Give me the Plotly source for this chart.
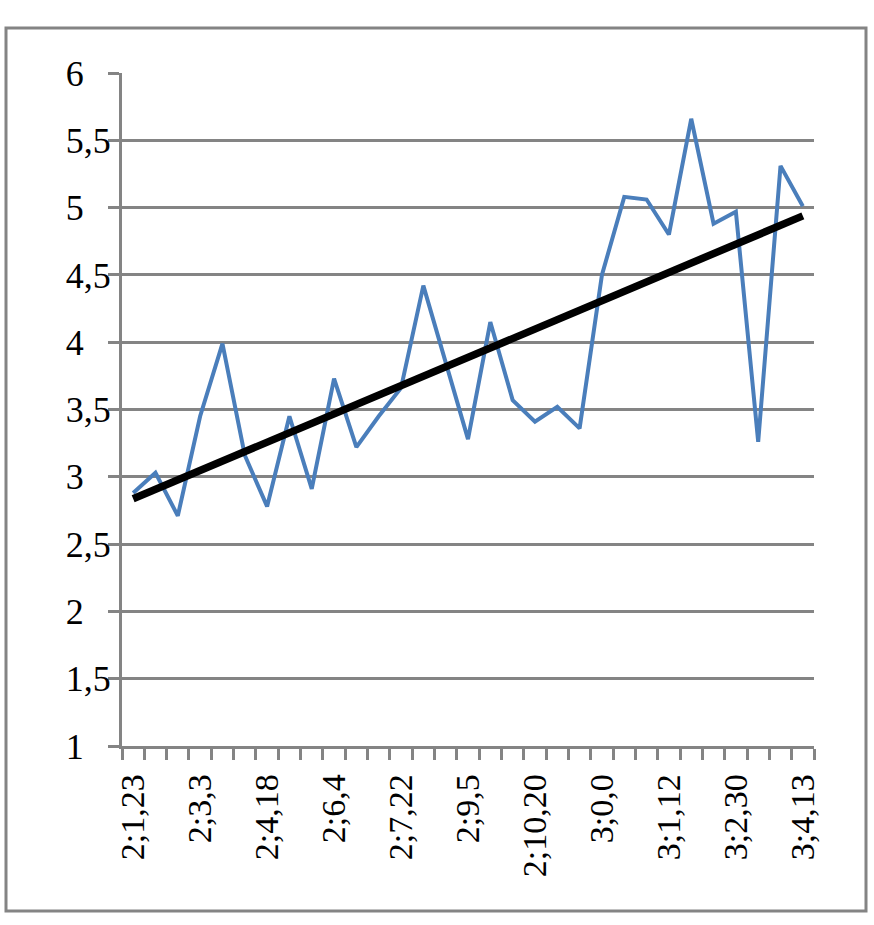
import numpy as np
import plotly.graph_objects as go

# --- data ---
tick_labels = ["2;1,23", "2;3,3", "2;4,18", "2;6,4", "2;7,22", "2;9,5",
               "2;10,20", "3;0,0", "3;1,12", "3;2,30", "3;4,13"]
values = [2.88, 3.03, 2.71, 3.45, 3.99, 3.16, 2.78, 3.45, 2.91, 3.73,
          3.22, 3.45, 3.66, 4.42, 3.85, 3.28, 4.15, 3.57, 3.41, 3.52,
          3.36, 4.50, 5.08, 5.06, 4.80, 5.66, 4.88, 4.97, 3.26, 5.31, 5.01]
y_ticks = [1, 1.5, 2, 2.5, 3, 3.5, 4, 4.5, 5, 5.5, 6]
y_tick_text = ["1", "1,5", "2", "2,5", "3", "3,5", "4", "4,5", "5", "5,5", "6"]
label_step = 3

x = np.arange(len(values))
slope, intercept = np.polyfit(x, values, 1)
trend = slope * x + intercept

W, H = 874, 925
L, R, T, B = 122, 814, 73, 746

# left-align the y labels as in the reference (pad integers to width of "d,d")
pad = "\u2008\u2007"
y_text_aligned = [t if "," in t else t + pad for t in y_tick_text]

fig = go.Figure()
fig.add_trace(go.Scatter(x=x, y=values, mode="lines",
                         line=dict(color="#4A7EBB", width=4), showlegend=False))
fig.add_trace(go.Scatter(x=x, y=trend, mode="lines",
                         line=dict(color="#000000", width=7.5), showlegend=False))

grey = "#848484"
serif = "Liberation Serif, Times New Roman, serif"

fig.update_layout(
    width=W, height=H,
    margin=dict(l=L, r=W - R, t=T, b=H - B, pad=0),
    paper_bgcolor="white", plot_bgcolor="white",
    font=dict(family=serif, size=35, color="#000000"),
    xaxis=dict(
        range=[-0.5, len(values) - 0.5],
        tickmode="array",
        tickvals=list(x[::label_step]),
        ticktext=tick_labels,
        tickangle=-90,
        ticks="",
        showgrid=False,
        zeroline=False,
        showline=True, linecolor=grey, linewidth=2.5,
        tickfont=dict(family=serif, size=34, color="#000000"),
        ticklabelstandoff=12,
        minor=dict(tickmode="array",
                   tickvals=list(np.arange(-0.5, len(values), 1.0)),
                   ticks="outside", ticklen=11, tickwidth=2.5, tickcolor=grey,
                   showgrid=False),
    ),
    yaxis=dict(
        range=[1, 6],
        tickmode="array", tickvals=y_ticks, ticktext=y_text_aligned,
        ticks="outside", ticklen=11, tickwidth=2.5, tickcolor=grey,
        showgrid=True, gridcolor=grey, gridwidth=2.5,
        zeroline=False,
        showline=True, linecolor=grey, linewidth=3,
        tickfont=dict(family=serif, size=36, color="#000000"),
        ticklabelstandoff=-10,
    ),
)

# outer chart border
pw, ph = R - L, B - T
fig.add_shape(type="rect", xref="paper", yref="paper",
              x0=(6 - L) / pw, x1=(866 - L) / pw,
              y0=(B - 911) / ph, y1=(B - 28) / ph,
              line=dict(color=grey, width=3), fillcolor="rgba(0,0,0,0)", layer="below")

fig.write_html("out.html")
